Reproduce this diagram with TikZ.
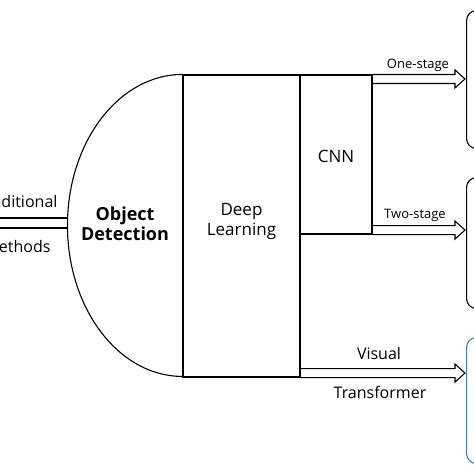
\documentclass[tikz,border=0pt]{standalone}
\usepackage{fontspec}
\setmainfont{Open Sans}
\usepackage{xcolor}
\usetikzlibrary{calc}
\definecolor{vitblue}{RGB}{60,125,190}

\tikzset{
  edge/.style={line width=1.1pt,black},
  block/.style={draw,line width=1.1pt,inner sep=0pt},
  outbox/.style={draw,line width=1.1pt,rounded corners=10pt,inner sep=0pt},
  big/.style={font=\fontsize{16}{20}\selectfont,align=center},
  large/.style={font=\fontsize{17}{21}\selectfont,align=center},
  small/.style={font=\fontsize{13}{16}\selectfont}
}
% #1 upper start, #2 lower start, #3 tip
\newcommand{\fatarrow}[3]{%
  \draw[edge,line join=miter] (#1) -- ($(#1 -| #3)+(-10pt,0)$) -- ($(#1 -| #3)+(-10pt,4.5pt)$)
    -- (#3) -- ($(#2 -| #3)+(-10pt,-4.5pt)$) -- ($(#2 -| #3)+(-10pt,0)$) -- (#2);}

\begin{document}
\begin{tikzpicture}[x=1pt,y=1pt]
\useasboundingbox (0,0) rectangle (474,-474);
\clip (0,0) rectangle (474,-474);

% blocks
\node[block,minimum width=117pt,minimum height=302pt] (deep) at (241.5,-226) {};
\node[block,minimum width=72pt,minimum height=159pt] (cnn) at (336,-154.5) {};
\draw[edge] (deep.north west) arc[start angle=90,end angle=270,x radius=115,y radius=151];

% results (cut by the page edge)
\node[outbox,minimum width=60pt,minimum height=138pt,anchor=north west] (one) at (466,-10) {};
\node[outbox,minimum width=60pt,minimum height=131pt,anchor=north west] (two) at (466,-177) {};
\node[outbox,draw=vitblue,minimum width=60pt,minimum height=126pt,anchor=north west] (vit) at (466,-337) {};

% labels
\node[large,font=\fontsize{18}{21}\selectfont\bfseries] (odlabel) at (125,-224) {Object\\[-1pt]Detection};
\node[large] (deeplabel) at (241.5,-221) {Deep\\[-1pt]Learning};
\node[large] (cnnlabel) at ($(cnn.center)+(0,-2)$) {CNN};
\node[big,anchor=east] (trad) at (61,-201) {Traditional};
\node[big,anchor=east] (meth) at (54,-246) {Methods};
\node[small] (onelabel) at (418,-65) {One-stage};
\node[small] (twolabel) at (415,-215) {Two-stage};
\node[big] (vis) at (379,-353) {Visual};
\node[big] (trans) at (380,-392) {Transformer};

% arrows
\coordinate (one-b) at ($(cnn.north east)+(0,-9)$);
\coordinate (one-tip) at ($(one.west |- cnn.north east)+(-1,-4.5)$);
\fatarrow{cnn.north east}{one-b}{one-tip}
\coordinate (two-a) at ($(cnn.south east)+(0,9)$);
\coordinate (two-tip) at ($(two.west |- cnn.south east)+(-1,4.5)$);
\fatarrow{two-a}{cnn.south east}{two-tip}
\coordinate (vit-a) at ($(deep.south east)+(0,9)$);
\coordinate (vit-tip) at ($(vit.west |- deep.south east)+(-1,4.5)$);
\fatarrow{vit-a}{deep.south east}{vit-tip}

% traditional methods
\coordinate (trad-a) at (0,-218);
\coordinate (trad-b) at (0,-228);
\draw[edge] (trad-a) -- (68.2,-218);
\draw[edge] (trad-b) -- (68.2,-228);
\end{tikzpicture}
\end{document}
